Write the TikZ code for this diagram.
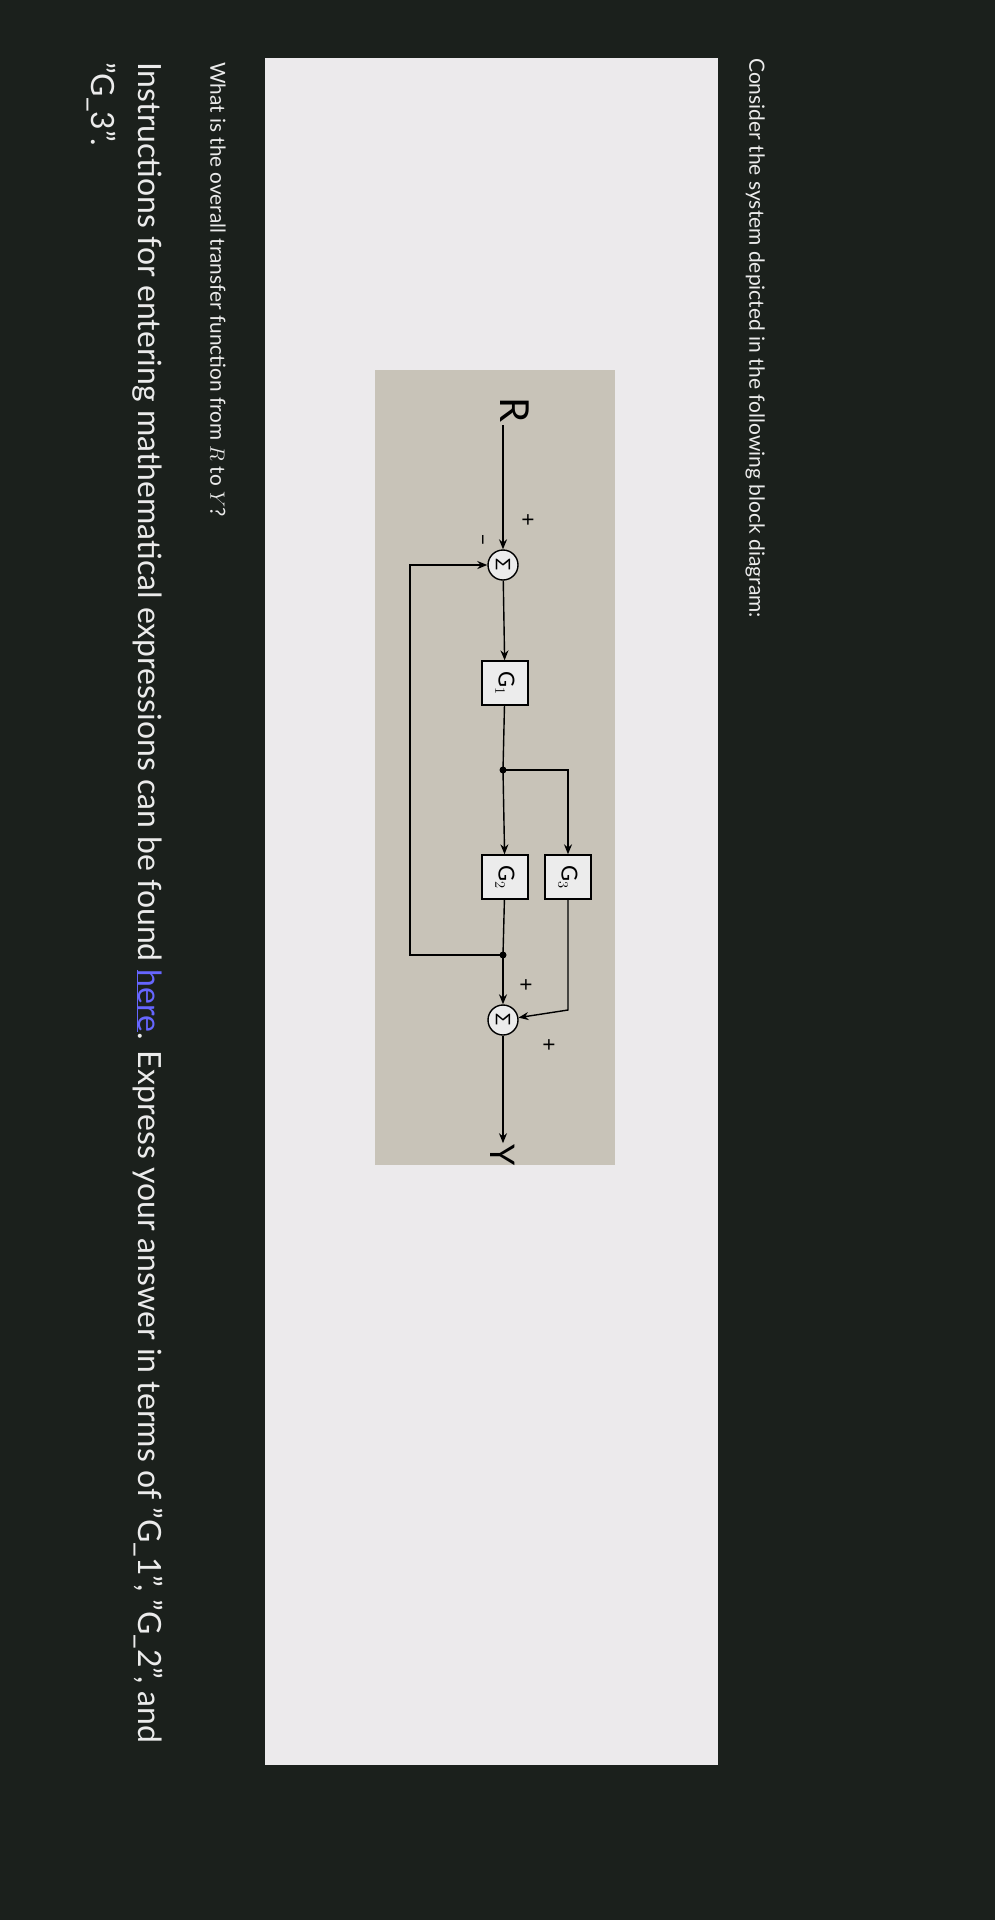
\documentclass[tikz,border=0pt]{standalone}
\usepackage{fontspec}
\setmainfont{Lato}
\usetikzlibrary{arrows.meta}
\definecolor{bg}{RGB}{27,32,28}
\definecolor{panel}{RGB}{236,234,236}
\definecolor{photo}{RGB}{200,195,184}
\begin{document}
\begin{tikzpicture}[x=1pt,y=-1pt,
  txt/.style={rotate=-90,anchor=north west,inner sep=0pt,text=white!92!black},
  blk/.style={draw,line width=1.4pt,minimum width=44pt,minimum height=46pt,inner sep=1pt,fill=white!85!gray,rotate=-90,font=\fontsize{22}{22}\selectfont},
  sm/.style={draw,circle,line width=1.4pt,minimum size=30pt,inner sep=0pt,fill=white!85!gray,rotate=-90,font=\fontsize{20}{20}\selectfont},
  ln/.style={line width=1.4pt},
  ar/.style={ln,-{Stealth[length=10pt,width=8pt]}},
  hw/.style={rotate=-90,inner sep=1pt,font=\fontsize{22}{22}\selectfont}]
\fill[bg] (0,0) rectangle (995,1920);
\fill[panel] (265,58) rectangle (718,1765);
\fill[photo] (375,370) rectangle (615,1165);
\node[txt,font=\fontsize{21}{25}\selectfont] (t1) at (765,58) {Consider the system depicted in the following block diagram:};
\node[txt,font=\fontsize{20.8}{25}\selectfont] (t2) at (226,62) {What is the overall transfer function from $R$ to $Y$?};
\node[txt,font=\fontsize{32}{47}\selectfont,align=left] (t3) at (163,62) {Instructions for entering mathematical expressions can be found \textcolor{blue!60!white}{\underline{here}}. Express your answer in terms of "G\_1", "G\_2", and\\ "G\_3".};
% diagram
\node[hw,font=\fontsize{40}{40}\selectfont] (R) at (515,410) {R};
\coordinate (Rs) at (503,425);
\node[sm] (s1) at (503,565) {Σ};
\node[blk] (g1) at (505,683) {G$_1$};
\node[blk] (g2) at (505,877) {G$_2$};
\node[blk] (g3) at (568,877) {G$_3$};
\node[sm] (s2) at (503,1020) {Σ};
\node[hw,font=\fontsize{34}{34}\selectfont] (Y) at (503,1155) {Y};
\coordinate (b1) at (503,770);
\coordinate (b2) at (503,955);
\coordinate (f1) at (410,955);
\coordinate (f2) at (410,565);
\coordinate (c3) at (568,770);
\coordinate (c4) at (568,1010);
\fill (b1) circle (3.5pt); \fill (b2) circle (3.5pt);
\draw[ar] (Rs) -- (s1);
\draw[ar] (s1) -- (g1);
\draw[ln] (g1) -- (b1);
\draw[ar] (b1) -- (g2);
\draw[ln] (g2) -- (b2);
\draw[ar] (b2) -- (s2);
\draw[ar] (b1) -- (c3) -- (g3);
\draw[ar] (g3) -- (c4) -- (s2);
\draw[ar] (b2) -- (f1) -- (f2) -- (s1);
\draw[ar] (s2) -- (Y);
\node[hw] (p1) at (527,520) {+};
\node[hw] (m1) at (480,540) {--};
\node[hw] (p2) at (525,985) {+};
\node[hw] (p3) at (548,1045) {+};
\end{tikzpicture}
\end{document}
